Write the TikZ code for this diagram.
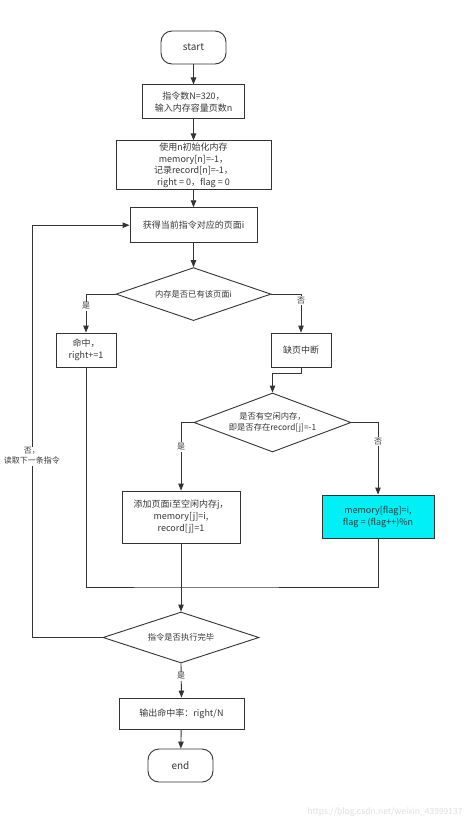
\documentclass[tikz,border=0pt]{standalone}
\usepackage{fontspec}
\setmainfont{Noto Sans CJK SC}
\usetikzlibrary{positioning,shapes.geometric,arrows.meta}
\definecolor{linegray}{RGB}{51,51,51}
\definecolor{textgray}{RGB}{55,55,55}
\definecolor{fillcyan}{RGB}{0,240,245}

\begin{document}
\begin{tikzpicture}[x=1pt,y=-1pt,
	base/.style={draw=linegray,line width=0.9pt,inner sep=0pt,align=center,text=textgray,font=\fontsize{9}{12}\selectfont},
	term/.style={base,rounded corners=11pt,minimum width=65pt,minimum height=33pt,font=\fontsize{10}{12}\selectfont},
	proc/.style={base,rectangle},
	decide/.style={base,diamond,font=\fontsize{8.3}{11}\selectfont},
	line/.style={draw=linegray,line width=0.9pt},
	arrow/.style={line,-{Triangle[length=7pt,width=5.5pt]}},
	lbl/.style={fill=white,inner sep=1pt,text=textgray,font=\fontsize{8}{10}\selectfont,align=center}]
	\useasboundingbox[fill=white] (0,0) rectangle (474,823);

	\node[term] (start) at (193.5,47.5) {start};
	\node[proc,below=20pt of start,minimum width=102pt,minimum height=34pt] (setn) {指令数N=320，\\输入内存容量页数n};
	\node[proc,below=21pt of setn,minimum width=155pt,minimum height=49pt,font=\fontsize{9}{11.8}\selectfont] (init) {使用n初始化内存\\memory[n]=-1，\\记录record[n]=-1，\\right = 0，flag = 0};
	\node[proc,below=17pt of init,minimum width=127pt,minimum height=35pt] (page) {获得当前指令对应的页面i};
	\node[decide,below=24pt of page,minimum width=155pt,minimum height=53pt,aspect=2.92] (inmem) {内存是否已有该页面i};

	\node[proc,minimum width=60pt,minimum height=34pt] (hit) at (86,350) {命中，\\right+=1};
	\node[proc,minimum width=60pt,minimum height=34pt] (miss) at (301,350) {缺页中断};
	\node[decide,minimum width=157pt,minimum height=59pt,aspect=2.66] (free) at (272.5,422.5) {是否有空闲内存，\\即是否存在record[j]=-1};
	\node[proc,minimum width=118pt,minimum height=52pt] (add) at (181,517) {添加页面i至空闲内存j，\\memory[j]=i,\\record[j]=1};
	\node[proc,fill=fillcyan,minimum width=112pt,minimum height=43pt] (swap) at (378,516.5) {memory[flag]=i,\\flag = (flag++)\%n};
	\node[decide,minimum width=156pt,minimum height=51pt,aspect=3.06] (done) at (181,637.5) {指令是否执行完毕};
	\node[proc,minimum width=125pt,minimum height=31pt] (out) at (181.5,713.5) {输出命中率：right/N};
	\node[term] (end) at (180.5,765.5) {end};

	\coordinate (merge) at (181,587);
	\coordinate (back) at (32,637.5);

	\draw[arrow] (start) -- (setn);
	\draw[arrow] (setn) -- (init);
	\draw[arrow] (init) -- (page);
	\draw[arrow] (page) -- (inmem);
	\draw[arrow] (inmem.west) -| node[lbl,pos=0.655] {是} (hit.north);
	\draw[arrow] (inmem.east) -| node[lbl,pos=0.58] {否} (miss.north);
	\draw[arrow] (miss.south) -- ++(0,6) -| (free.north);
	\draw[arrow] (free.west) -| node[lbl,pos=0.68] {是} (add.north);
	\draw[arrow] (free.east) -| node[lbl,pos=0.63] {否} (swap.north);
	\draw[line] (hit.south) |- (merge) -| (swap.south);
	\draw[arrow] (add.south) -- (done.north);
	\draw[arrow] (done.west) -- (back) |- node[lbl,pos=0.22] {否，\\读取下一条指令} (page.west);
	\draw[arrow] (done.south) -- node[lbl,pos=0.37] {是} (out.north);
	\draw[arrow] (out) -- (end);

	\node[text=gray!25,font=\fontsize{8.5}{10}\selectfont] (mark) at (385,812) {https://blog.csdn.net/weixin\_43999137};
\end{tikzpicture}
\end{document}
